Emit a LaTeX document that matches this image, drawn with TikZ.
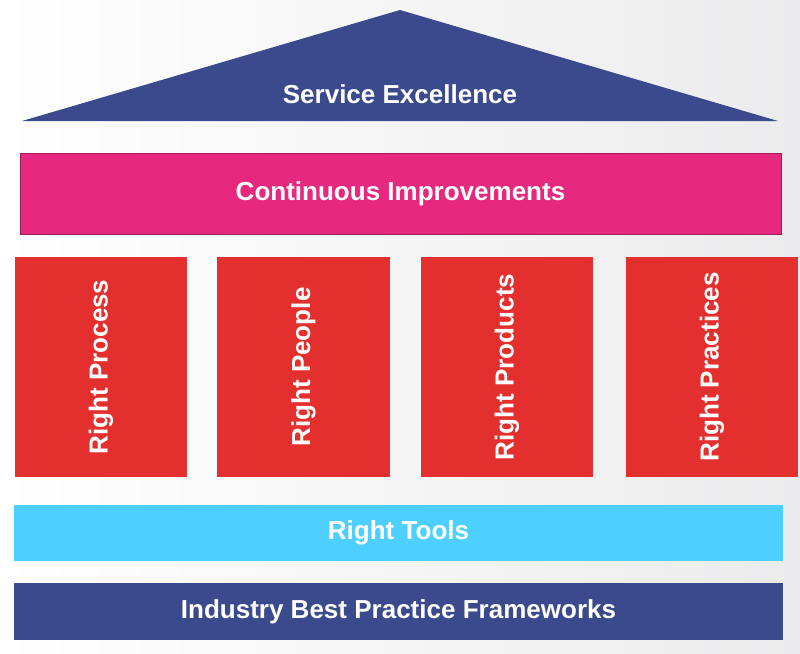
\documentclass[tikz,border=0pt]{standalone}
\usepackage{fontspec}
\setmainfont{Liberation Sans}
\usepackage{tikz}
\usetikzlibrary{positioning}
\definecolor{navy}{HTML}{3A4A8C}
\definecolor{pinkbar}{HTML}{E6287F}
\definecolor{redpillar}{HTML}{E3302E}
\definecolor{cyanbar}{HTML}{4DD0FF}
\tikzset{
  bar/.style={rectangle, minimum width=19.225cm, inner sep=0pt, text=white,
    font=\fontsize{18.5}{22}\selectfont\bfseries},
  pillar/.style={rectangle, minimum width=4.3cm, minimum height=5.5cm, inner sep=0pt,
    fill=redpillar, text=white, font=\fontsize{18.5}{22}\selectfont\bfseries},
  label/.style={text=white, font=\fontsize{18.5}{22}\selectfont\bfseries}
}
\begin{document}
\begin{tikzpicture}[x=0.025cm, y=-0.025cm]
  \useasboundingbox (0,0) rectangle (800,653);
  \shade[left color=white, right color=blue!4!gray!15] (0,0) rectangle (800,653);

  % roof
  \fill[navy] (400,10) -- (778,121) -- (22,121) -- cycle;
  \node (roof) [label] at (400,94) {Service Excellence};

  % bars
  \node (improve) [bar, minimum width=19.025cm, minimum height=2.025cm, fill=pinkbar, draw=pinkbar!70!black]
    at (400.5,193.5) {Continuous Improvements};

  % pillars
  \node (process) [pillar] at (101,367) {\rotatebox{90}{Right Process}};
  \node (people) [pillar] at (303.5,367) {\rotatebox{90}{Right People}};
  \node (products) [pillar] at (507,367) {\rotatebox{90}{Right Products}};
  \node (practices) [pillar] at (712,367) {\rotatebox{90}{Right Practices}};

  % base
  \node (tools) [bar, minimum height=1.4cm, fill=cyanbar] at (398.5,533) {Right Tools};
  \node (frameworks) [bar, minimum height=1.425cm, fill=navy] at (398.5,611.5) {Industry Best Practice Frameworks};
\end{tikzpicture}
\end{document}
